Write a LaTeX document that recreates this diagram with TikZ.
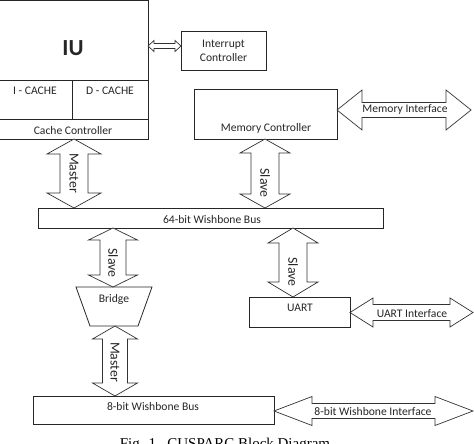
\documentclass[tikz,border=0pt]{standalone}
\usepackage{fontspec}
\setmainfont{Carlito}
\newfontfamily\capfont{Liberation Serif}
\newcommand\VArr[6]{\draw[blk] (#1,#2) -- ({#1+#4},{#2+#6}) -- ({#1+#5},{#2+#6}) -- ({#1+#5},{#3-#6}) -- ({#1+#4},{#3-#6}) -- (#1,#3) -- ({#1-#4},{#3-#6}) -- ({#1-#5},{#3-#6}) -- ({#1-#5},{#2+#6}) -- ({#1-#4},{#2+#6}) -- cycle;}
\newcommand\HArr[6]{\draw[blk] (#2,#1) -- ({#2+#6},{#1-#4}) -- ({#2+#6},{#1-#5}) -- ({#3-#6},{#1-#5}) -- ({#3-#6},{#1-#4}) -- (#3,#1) -- ({#3-#6},{#1+#4}) -- ({#3-#6},{#1+#5}) -- ({#2+#6},{#1+#5}) -- ({#2+#6},{#1+#4}) -- cycle;}
\begin{document}
\begin{tikzpicture}[x=1pt,y=-1pt,
  box/.style={draw=black!85, line width=0.8pt},
  blk/.style={draw=black!80, line width=0.7pt, fill=white},
  lbl/.style={font=\fontsize{11.6}{13}\selectfont, text=black!85, inner sep=0pt},
  rlbl/.style={font=\fontsize{13.8}{15}\selectfont, text=black!85, inner sep=0pt, rotate=-90}]
\useasboundingbox (0,0) rectangle (474,444);
% IU block
\draw[box] (-3,0.5) rectangle (148,139);
\draw[box] (-3,80) -- (148,80);
\draw[box] (-3,119) -- (148,119);
\draw[box] (72,80) -- (72,119);
\node[lbl, font=\fontsize{23}{26}\selectfont\bfseries] (iu) at (73,48) {IU};
\node[lbl] (icache) at (35,91) {I - CACHE};
\node[lbl] (dcache) at (110,91) {D - CACHE};
\node[lbl] (cc) at (73,131) {Cache Controller};
% Interrupt controller
\draw[box] (181,31) rectangle (266,70);
\node[lbl, align=center] (ic) at (223.5,50.5) {Interrupt\\[1pt]Controller};
% Memory controller
\draw[box] (194,89) rectangle (337,139);
\node[lbl] (mc) at (266,128) {Memory Controller};
% 64-bit bus
\draw[box] (38,208) rectangle (383,228);
\node[lbl] (bus64) at (212,220) {64-bit Wishbone Bus};
% Bridge
\draw[box] (76,287) -- (152,287) -- (138,326) -- (90,326) -- cycle;
\node[lbl] (bridge) at (114,299) {Bridge};
% UART
\draw[box] (249,297) rectangle (350,327);
\node[lbl] (uart) at (300,308) {UART};
% 8-bit bus
\draw[box] (33,396) rectangle (274,424);
\node[lbl] (bus8) at (153,407) {8-bit Wishbone Bus};
% block arrows
\HArr{46}{148}{181}{5.5}{2.5}{6}
\HArr{110}{337}{471}{20}{7.5}{25}
\node[lbl] (memif) at (405,109) {Memory Interface};
\VArr{74}{139}{208}{27}{14}{15}
\node[rlbl] (m1) at (74,173) {Master};
\VArr{265}{139}{208}{25}{14}{14}
\node[rlbl] (s1) at (265,183) {Slave};
\VArr{113}{228}{287}{24.5}{13}{12}
\node[rlbl] (s2) at (113,263) {Slave};
\VArr{293}{228}{297}{25}{14}{15}
\node[rlbl] (s3) at (293,272) {Slave};
\VArr{115}{326}{396}{22.5}{12.5}{13}
\node[rlbl] (m2) at (115,362) {Master};
\HArr{312.5}{350}{473}{14.5}{8}{23}
\node[lbl] (uartif) at (412,314) {UART Interface};
\HArr{411}{274}{473}{14.5}{7.5}{38}
\node[lbl] (wbif) at (373,412) {8-bit Wishbone Interface};
% caption
\node[inner sep=0pt, anchor=north, font=\capfont\fontsize{15}{17}\selectfont] (cap) at (225,437.5) {Fig. 1.\ \ CUSPARC Block Diagram};
\end{tikzpicture}
\end{document}
